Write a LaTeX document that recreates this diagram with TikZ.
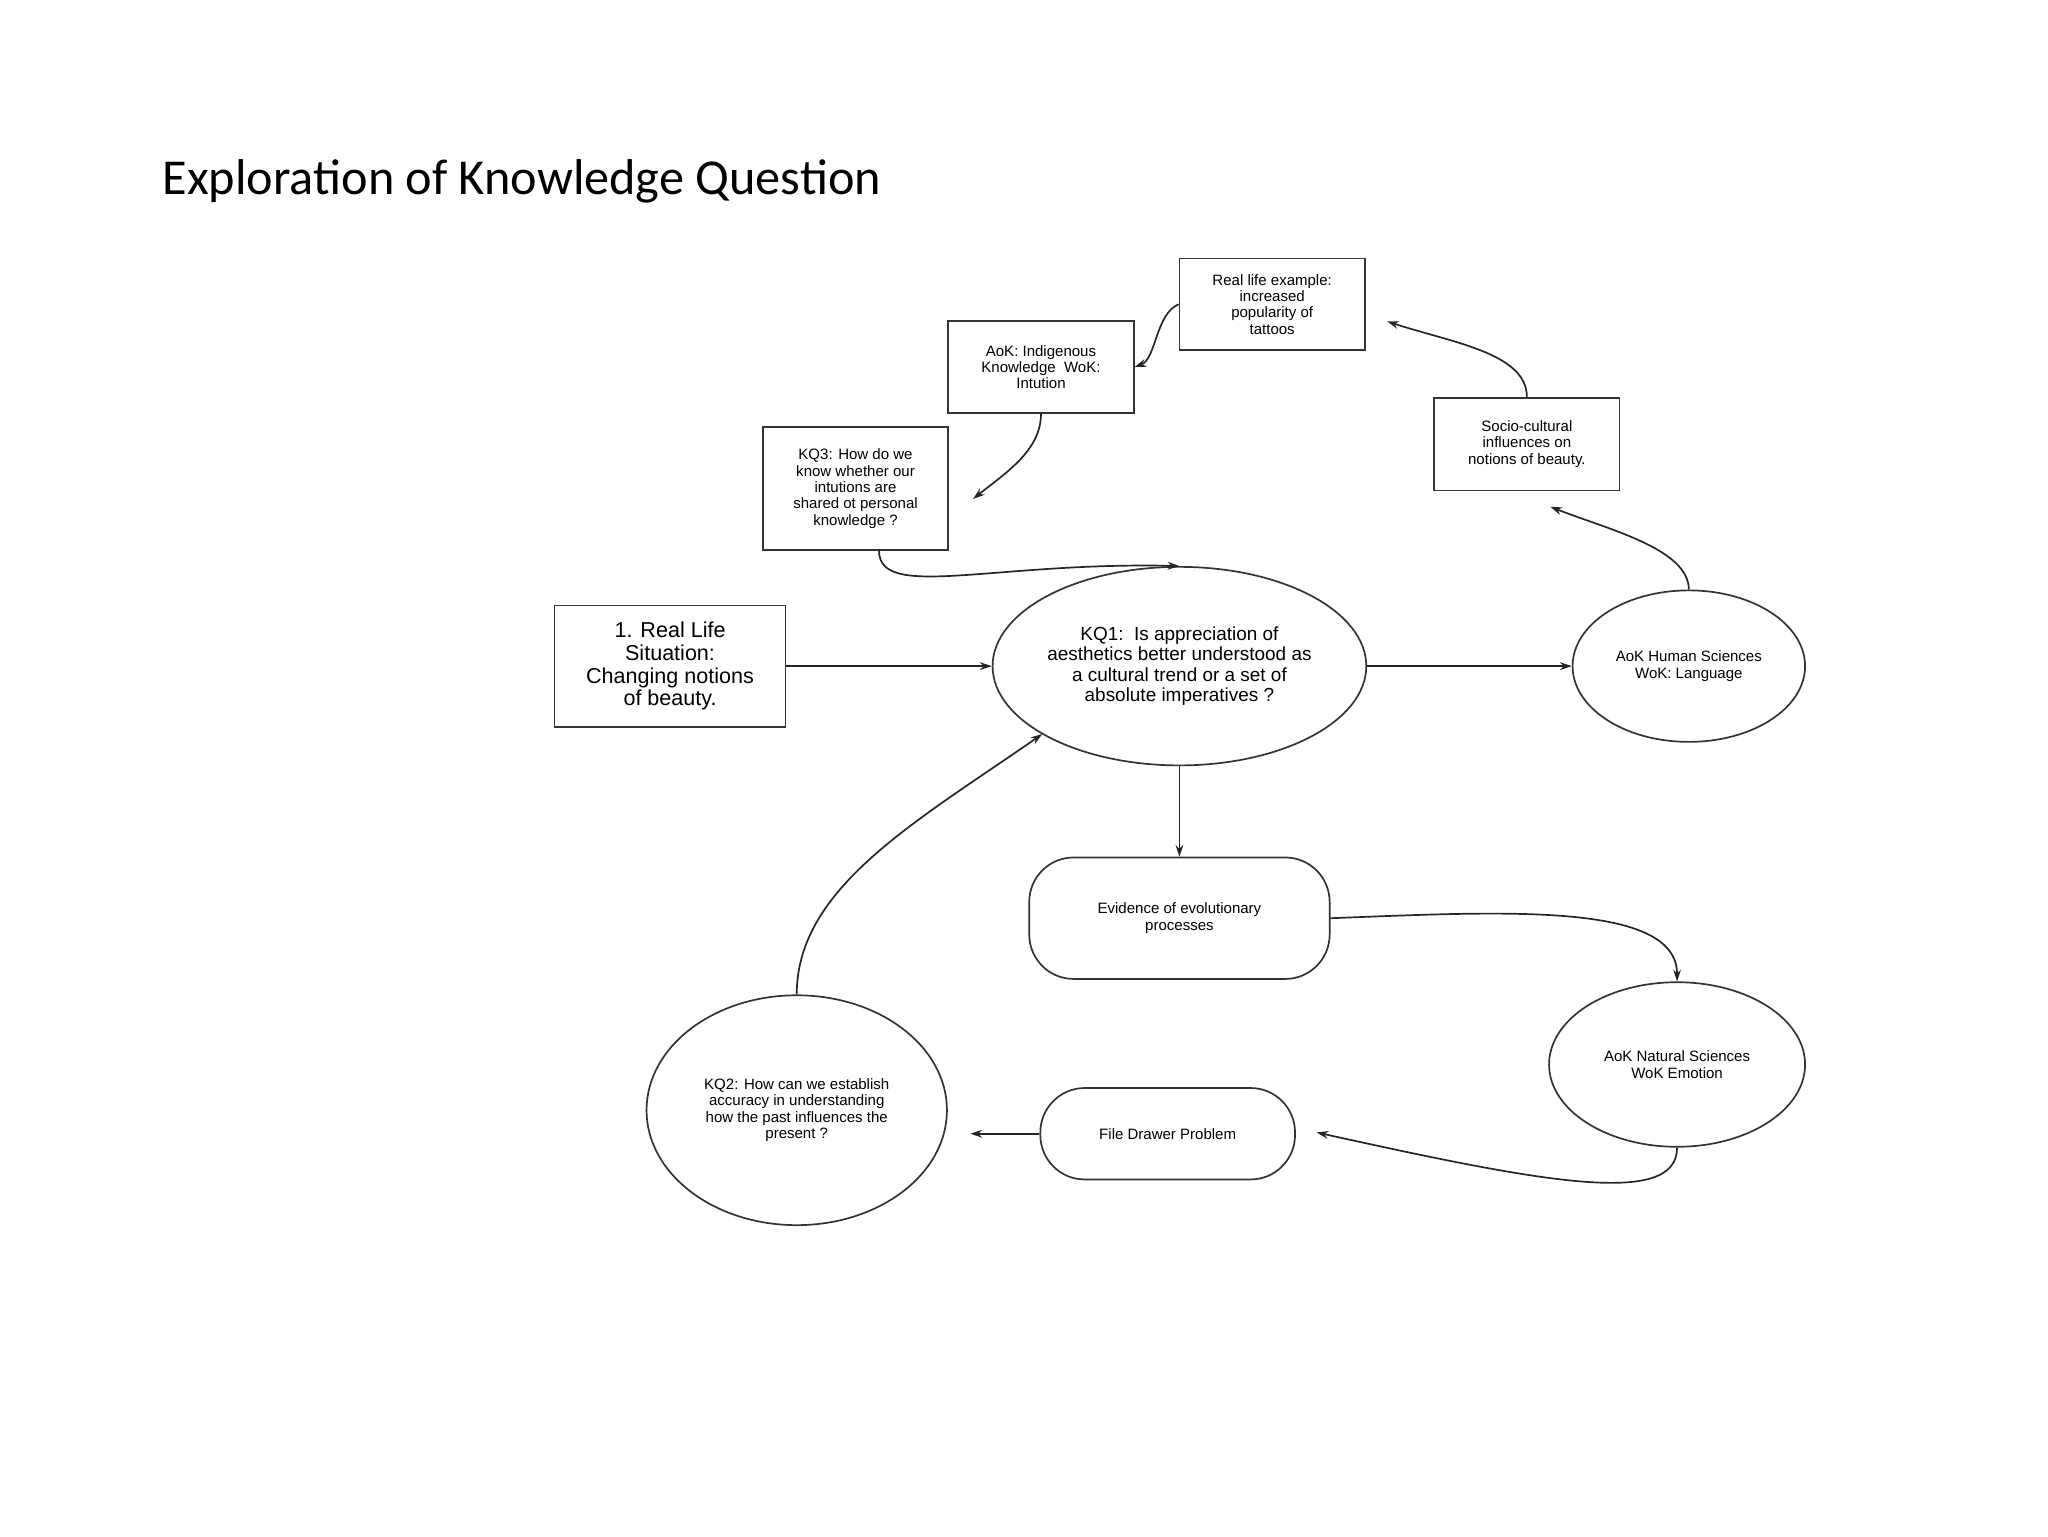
\documentclass[tikz,border=0pt]{standalone}
\usepackage{fontspec}
\setmainfont{Liberation Sans}
\newfontfamily\titlefont{Carlito}
\usetikzlibrary{shapes.geometric,arrows.meta}
\begin{document}
\begin{tikzpicture}[x=1pt,y=-1pt,
  box/.style={draw=black!80,line width=1.3pt,align=center,inner sep=1pt,font=\fontsize{11.5}{12.5}\selectfont},
  ell/.style={ellipse,draw=black!80,line width=1.3pt,align=center,inner sep=0pt,font=\fontsize{11.5}{12.5}\selectfont},
  rnd/.style={draw=black!80,line width=1.3pt,rounded corners=34pt,align=center,font=\fontsize{11.5}{12.5}\selectfont},
  con/.style={draw=black!85,line width=1.3pt,-{Stealth[length=9pt,width=6pt]}}]
\useasboundingbox (0,0) rectangle (1568,1176);
\node[anchor=base west,font=\titlefont\fontsize{38.5}{40}\selectfont] (title) at (121,149) {Exploration of Knowledge Question};
\node[box,minimum width=142pt,minimum height=70pt] (ex) at (974,233) {Real life example:\\increased\\popularity of\\tattoos};
\node[box,minimum width=142pt,minimum height=70pt] (aok) at (797,281) {AoK: Indigenous\\Knowledge\ \ WoK:\\Intution};
\node[box,minimum width=142pt,minimum height=94pt] (kq3) at (655,374) {KQ3: How do we\\know whether our\\intutions are\\shared ot personal\\knowledge ?};
\node[box,minimum width=142pt,minimum height=71pt] (soc) at (1169,340) {Socio-cultural\\influences on\\notions of beauty.};
\node[box,minimum width=177pt,minimum height=93pt,font=\fontsize{16.5}{17.5}\selectfont] (rls) at (513,510) {1. Real Life\\Situation:\\Changing notions\\of beauty.};
\node[ell,minimum width=284pt,minimum height=152pt,font=\fontsize{14.5}{15.5}\selectfont] (kq1) at (903,510) {KQ1:\ \ Is appreciation of\\aesthetics better understood as\\a cultural trend or a set of\\absolute imperatives ?};
\node[ell,minimum width=178pt,minimum height=116pt] (hs) at (1293,510) {AoK Human Sciences\\WoK: Language};
\node[rnd,minimum width=230pt,minimum height=93pt] (ev) at (903,703) {Evidence of evolutionary\\processes};
\node[ell,minimum width=196pt,minimum height=126pt] (ns) at (1284,815) {AoK Natural Sciences\\WoK Emotion};
\node[rnd,minimum width=195pt,minimum height=70pt] (fd) at (894,868) {File Drawer Problem};
\node[ell,minimum width=230pt,minimum height=176pt] (kq2) at (610,850) {KQ2: How can we establish\\accuracy in understanding\\how the past influences the\\present ?};
\coordinate (exin) at (1062,246);
\coordinate (kq3in) at (745,382);
\coordinate (socin) at (1187,388);
\coordinate (kq2in) at (743,868);
\coordinate (fdin) at (1008,867);
\draw[con] (ex.west) .. controls (885,240) and (885,275) .. (aok.east);
\draw[con] (aok.south) .. controls (797,345) and (770,362) .. (kq3in);
\draw[con] (kq3.south) ++(18,0) .. controls (673,460) and (760,430) .. (kq1.north);
\draw[con] (rls.east) -- (kq1.west);
\draw[con] (kq1.east) -- (hs.west);
\draw[con] (hs.north) .. controls (1293,420) and (1230,405) .. (socin);
\draw[con] (soc.north) .. controls (1169,270) and (1110,262) .. (exin);
\draw[con] (kq1.south) -- (ev.north);
\draw[con] (ev.east) .. controls (1150,698) and (1284,690) .. (ns.north);
\draw[con] (ns.south) .. controls (1284,925) and (1180,905) .. (fdin);
\draw[con] (fd.west) -- (kq2in);
\draw[con] (kq2.north) .. controls (610,680) and (700,630) .. (798,562);
\end{tikzpicture}
\end{document}
